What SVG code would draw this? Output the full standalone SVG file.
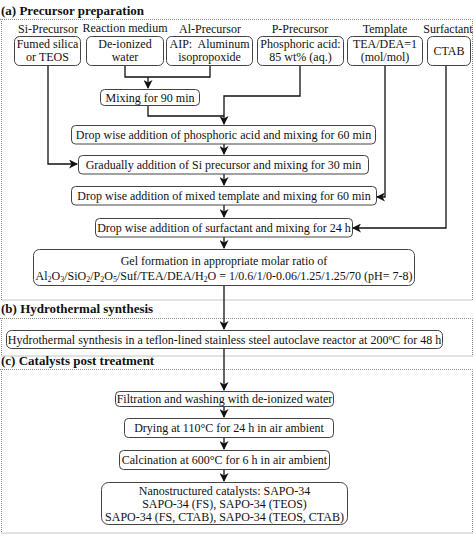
<svg xmlns="http://www.w3.org/2000/svg" width="474" height="535" viewBox="0 0 474 535">
<style>
text{font-family:"Liberation Serif","Times New Roman",serif;font-size:12px;fill:#111}
.t{font-weight:bold;font-size:13px}
.c{text-anchor:middle}
.box{fill:#fff;stroke:#444;stroke-width:1}
.fr{fill:none;stroke:#888;stroke-width:1;stroke-dasharray:1 1}
.ln{fill:none;stroke:#111;stroke-width:1.3}
.sub{font-size:8px}
</style>
<defs>
<marker id="ar" markerWidth="9" markerHeight="9" refX="8" refY="4.5" orient="auto" markerUnits="userSpaceOnUse">
<path d="M0,0 L9,4.5 L0,9 L2.5,4.5 Z" fill="#111"/>
</marker>
</defs>
<rect width="474" height="535" fill="#fff"/>
<g id="frames">
<path class="fr" d="M0,19.5 H472.5 V300 H1.5 V19.5"/>
<path class="fr" d="M0,318.5 H472.5 V356 H1.5 V318.5"/>
<path class="fr" d="M0,369.5 H472.5 V533 H1.5 V369.5"/>
<text class="t" x="1" y="15">(a) Precursor preparation</text>
<text class="t" x="1" y="313">(b) Hydrothermal synthesis</text>
<text class="t" x="1" y="365">(c) Catalysts post treatment</text>
</g>
<g id="labels">
<text class="c" x="48" y="33">Si-Precursor</text>
<text class="c" x="125" y="32">Reaction medium</text>
<text class="c" x="210" y="33">Al-Precursor</text>
<text class="c" x="300" y="33">P-Precursor</text>
<text class="c" x="385" y="33">Template</text>
<text class="c" x="448" y="33">Surfactant</text>
</g>
<g id="connectors">
<path class="ln" d="M48,65 V164 H77" marker-end="url(#ar)"/>
<path class="ln" d="M125,65 V77 H210 V65"/>
<path class="ln" d="M148,77 V88" marker-end="url(#ar)"/>
<path class="ln" d="M148,105 V116 H224"/>
<path class="ln" d="M300,65 V96 H224 V124" marker-end="url(#ar)"/>
<path class="ln" d="M224,144 V154" marker-end="url(#ar)"/>
<path class="ln" d="M224,174 V185" marker-end="url(#ar)"/>
<path class="ln" d="M385,65 V197 H377" marker-end="url(#ar)"/>
<path class="ln" d="M224,205 V217" marker-end="url(#ar)"/>
<path class="ln" d="M446,65 V228 H353" marker-end="url(#ar)"/>
<path class="ln" d="M224,237 V248" marker-end="url(#ar)"/>
<path class="ln" d="M224,286 V329" marker-end="url(#ar)"/>
<path class="ln" d="M224,348 V390" marker-end="url(#ar)"/>
<path class="ln" d="M224,406 V417" marker-end="url(#ar)"/>
<path class="ln" d="M224,437 V449" marker-end="url(#ar)"/>
<path class="ln" d="M224,469 V481" marker-end="url(#ar)"/>
</g>
<g id="n-si"><rect class="box" x="14.5" y="36.5" width="66" height="29" rx="5"/><text class="c" x="47.5" y="48">Fumed silica</text><text class="c" x="47.5" y="61">or TEOS</text></g>
<g id="n-water"><rect class="box" x="86.5" y="36.5" width="77" height="29" rx="5"/><text class="c" x="125" y="48">De-ionized</text><text class="c" x="125" y="61">water</text></g>
<g id="n-al"><rect class="box" x="166.5" y="36.5" width="86" height="29" rx="5"/><text class="c" x="209.5" y="48" xml:space="preserve">AIP:  Aluminum</text><text class="c" x="209.5" y="61">isopropoxide</text></g>
<g id="n-p"><rect class="box" x="257.5" y="36.5" width="86" height="29" rx="5"/><text class="c" x="300.5" y="48">Phosphoric acid:</text><text class="c" x="300.5" y="61">85 wt% (aq.)</text></g>
<g id="n-tpl"><rect class="box" x="347.5" y="36.5" width="75" height="29" rx="5"/><text class="c" x="385" y="48">TEA/DEA=1</text><text class="c" x="385" y="61">(mol/mol)</text></g>
<g id="n-ctab"><rect class="box" x="427.5" y="36.5" width="43" height="29" rx="5"/><text class="c" x="449" y="55">CTAB</text></g>
<g id="n-mix"><rect class="box" x="100.5" y="89.5" width="99" height="16" rx="4"/><text class="c" x="150" y="102">Mixing for 90 min</text></g>
<g id="n-s1"><rect class="box" x="71.5" y="125.5" width="304" height="18.5" rx="4"/><text class="c" x="223.5" y="139">Drop wise addition of phosphoric acid and mixing for 60 min</text></g>
<g id="n-s2"><rect class="box" x="78.5" y="155.5" width="290" height="18.5" rx="4"/><text class="c" x="223.5" y="169">Gradually addition of Si precursor and mixing for 30 min</text></g>
<g id="n-s3"><rect class="box" x="71.5" y="186.5" width="305" height="18.5" rx="4"/><text class="c" x="224" y="200">Drop wise addition of mixed template and mixing for 60 min</text></g>
<g id="n-s4"><rect class="box" x="95.5" y="218.5" width="257" height="18.5" rx="4"/><text class="c" x="224" y="232">Drop wise addition of surfactant and mixing for 24 h</text></g>
<g id="n-gel"><rect class="box" x="33.5" y="249.5" width="381" height="36" rx="6"/><text class="c" x="224" y="265">Gel formation in appropriate molar ratio of</text><text class="c" x="224" y="280">Al<tspan class="sub" dy="2">2</tspan><tspan dy="-2">O</tspan><tspan class="sub" dy="2">3</tspan><tspan dy="-2">/SiO</tspan><tspan class="sub" dy="2">2</tspan><tspan dy="-2">/P</tspan><tspan class="sub" dy="2">2</tspan><tspan dy="-2">O</tspan><tspan class="sub" dy="2">5</tspan><tspan dy="-2">/Suf/TEA/DEA/H</tspan><tspan class="sub" dy="2">2</tspan><tspan dy="-2">O = 1/0.6/1/0-0.06/1.25/1.25/70 (pH= 7-8)</tspan></text></g>
<g id="n-hydro"><rect class="box" x="6.5" y="330.5" width="436" height="18" rx="5"/><text class="c" x="224.5" y="344">Hydrothermal synthesis in a teflon-lined stainless steel autoclave reactor at 200ºC for 48 h</text></g>
<g id="n-filt"><rect class="box" x="115.5" y="391.5" width="218" height="15" rx="4"/><text class="c" x="224.5" y="403">Filtration and washing with de-ionized water</text></g>
<g id="n-dry"><rect class="box" x="124.5" y="418.5" width="209" height="19" rx="4"/><text class="c" x="229" y="432">Drying at 110°C for 24 h in air ambient</text></g>
<g id="n-calc"><rect class="box" x="119.5" y="450.5" width="210" height="19" rx="4"/><text class="c" x="224.5" y="464">Calcination at 600°C for 6 h in air ambient</text></g>
<g id="n-final"><rect class="box" x="101.5" y="482.5" width="246" height="42" rx="7"/><text class="c" x="224.5" y="495">Nanostructured catalysts: SAPO-34</text><text class="c" x="224.5" y="508">SAPO-34 (FS), SAPO-34 (TEOS)</text><text class="c" x="224.5" y="521">SAPO-34 (FS, CTAB), SAPO-34 (TEOS, CTAB)</text></g>
</svg>
